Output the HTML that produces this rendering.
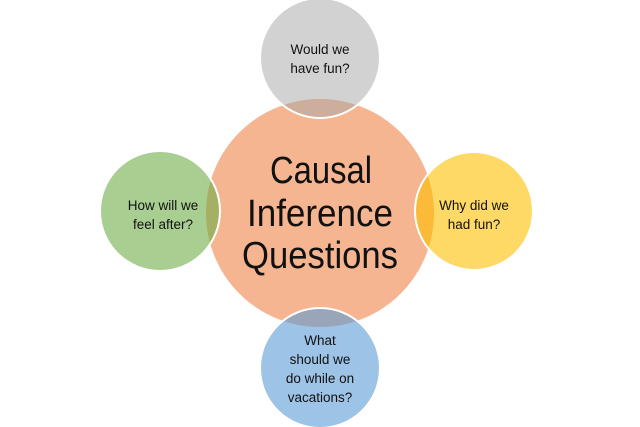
<!DOCTYPE html>
<html><head><style>
html,body{margin:0;padding:0;background:#fff;}
svg{display:block;}
text{font-family:"Liberation Sans",sans-serif;fill:#111;}
</style></head><body>
<svg width="640" height="427" viewBox="0 0 640 427">
<circle cx="320" cy="213" r="115" fill="#F4B590" stroke="#fff" stroke-width="2"/>
<circle cx="320" cy="58" r="60" fill="#A5A5A5" fill-opacity="0.5" stroke="#fff" stroke-width="2"/>
<circle cx="160" cy="211" r="60" fill="#70AD47" fill-opacity="0.6" stroke="#fff" stroke-width="2"/>
<circle cx="474" cy="211" r="59" fill="#FFC000" fill-opacity="0.6" stroke="#fff" stroke-width="2"/>
<circle cx="320" cy="368" r="60" fill="#5B9BD5" fill-opacity="0.6" stroke="#fff" stroke-width="2"/>
<g font-size="38">
<text x="270" y="183" textLength="102" lengthAdjust="spacingAndGlyphs">Causal</text>
<text x="247" y="226" textLength="146" lengthAdjust="spacingAndGlyphs">Inference</text>
<text x="242" y="268" textLength="156" lengthAdjust="spacingAndGlyphs">Questions</text>
</g>
<g text-anchor="middle" font-size="13.5">
<text x="320" y="54">Would we</text>
<text x="320" y="73">have fun?</text>
<text x="163" y="210">How will we</text>
<text x="163" y="229">feel after?</text>
<text x="474" y="210">Why did we</text>
<text x="474" y="229">had fun?</text>
<text x="320" y="345">What</text>
<text x="320" y="364">should we</text>
<text x="320" y="383">do while on</text>
<text x="320" y="402">vacations?</text>
</g>
</svg>
</body></html>
